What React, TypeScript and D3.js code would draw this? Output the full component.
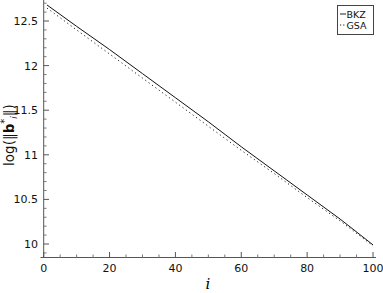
import * as React from 'react';
import * as d3 from 'd3';

const idx = [1, 10, 20, 30, 40, 50, 60, 70, 80, 90, 100];
const bkz = [12.68, 12.44, 12.18, 11.91, 11.64, 11.37, 11.09, 10.82, 10.55, 10.28, 9.99];
const gsa = [12.645, 12.4, 12.13, 11.86, 11.59, 11.32, 11.05, 10.79, 10.52, 10.26, 9.98];
const xTicks = [0, 20, 40, 60, 80, 100];
const yTicks = [10, 10.5, 11, 11.5, 12, 12.5];
const legendNames = ['BKZ', 'GSA'];

const W = 383, H = 293;

export default function App() {
  const x = d3.scaleLinear().domain([0, 100]).range([43.7, 373]);
  const y = d3.scaleLinear().domain([10, 12.5]).range([244, 21]);
  const line = d3.line<number>().x((_, i) => x(idx[i])).y(d => y(d));
  const xMinor = d3.range(0, 101, 5).filter(v => v % 20 !== 0);
  const yMinor = d3.range(99, 128, 1).map(v => v / 10).filter(v => Math.round(v * 10) % 5 !== 0);
  const font = "'DejaVu Sans', sans-serif";

  return (
    <svg width={W} height={H} style={{ position: 'absolute', left: 0, top: 0 }}>
      <rect width={W} height={H} fill="#fff" />
      {/* axes */}
      <line x1={40.5} x2={376} y1={257.5} y2={257.5} stroke="#555" strokeWidth={1} />
      <line x1={43.7} x2={43.7} y1={0} y2={257.5} stroke="#555" strokeWidth={1} />
      {xTicks.map(t => (
        <g key={'x' + t}>
          <line x1={x(t)} x2={x(t)} y1={257.5} y2={252} stroke="#555" />
          <text x={x(t)} y={272} fontSize={11} fontFamily={font} textAnchor="middle" fill="#111">{t}</text>
        </g>
      ))}
      {xMinor.map(t => (
        <line key={'xm' + t} x1={x(t)} x2={x(t)} y1={257.5} y2={254.5} stroke="#777" />
      ))}
      {yTicks.map(t => (
        <g key={'y' + t}>
          <line x1={43.7} x2={49} y1={y(t)} y2={y(t)} stroke="#555" />
          <text x={38} y={y(t) + 4} fontSize={11} fontFamily={font} textAnchor="end" fill="#111">{t}</text>
        </g>
      ))}
      {yMinor.map(t => (
        <line key={'ym' + t} x1={43.7} x2={46.5} y1={y(t)} y2={y(t)} stroke="#777" />
      ))}
      {/* series */}
      <path d={line(gsa) || ''} fill="none" stroke="#222" strokeWidth={1} strokeDasharray="1.2,3" />
      <path d={line(bkz) || ''} fill="none" stroke="#111" strokeWidth={1} />
      {/* legend */}
      <rect x={337.5} y={5.5} width={36} height={29} fill="#fff" stroke="#444" />
      {legendNames.map((n, i) => (
        <g key={n}>
          <line x1={340} x2={346} y1={14 + i * 11} y2={14 + i * 11} stroke="#222" strokeDasharray={i === 1 ? '1.2,2' : undefined} />
          <text x={346.5} y={17.5 + i * 11} fontSize={9.5} fontFamily={font} fill="#111">{n}</text>
        </g>
      ))}
      {/* axis labels */}
      <text x={208} y={289} fontSize={15} fontFamily="'DejaVu Serif', serif" fontStyle="italic" textAnchor="middle">i</text>
      <text transform="translate(14,135) rotate(-90)" fontSize={13.5} fontFamily="'DejaVu Sans', sans-serif" textAnchor="middle" fill="#111">
        log(‖<tspan fontWeight="bold">b</tspan><tspan dy={-6} fontSize={10}>*</tspan><tspan dy={9} fontSize={9} fontStyle="italic">i</tspan><tspan dy={-3}>‖)</tspan>
      </text>
    </svg>
  );
}
